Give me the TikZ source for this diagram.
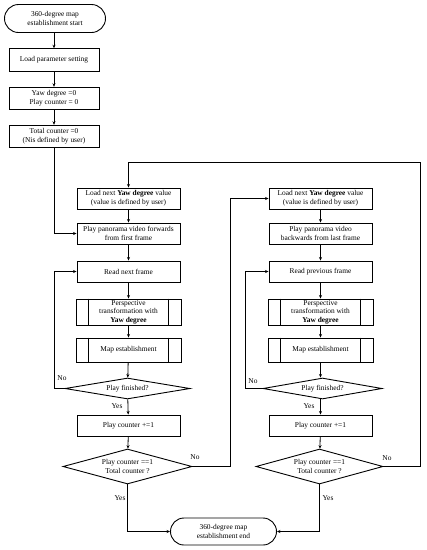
\documentclass[tikz,border=0pt]{standalone}
\usepackage{fontspec}
\setmainfont{Liberation Serif}
\usetikzlibrary{shapes.geometric,shapes.misc,arrows.meta}
\begin{document}
\begin{tikzpicture}[x=1pt,y=-1pt,
  every node/.style={font=\fontsize{7.4}{8.6}\selectfont, align=center, inner sep=0.5pt},
  box/.style={draw, line width=0.9pt, rectangle, minimum width=103pt, minimum height=21pt},
  sbox/.style={draw, line width=0.9pt, rectangle, minimum width=90pt, minimum height=22.5pt},
  pbox/.style={draw, line width=0.9pt, rectangle, minimum width=105pt},
  term/.style={draw, line width=0.9pt, rounded rectangle, minimum height=28pt},
  dec/.style={draw, line width=0.9pt, diamond, aspect=4, inner sep=0pt},
  arr/.style={line width=0.8pt, -{Stealth[length=3.5pt,width=3pt]}},
  lab/.style={font=\fontsize{7.4}{8.6}\selectfont}
]
\useasboundingbox (0,0) rectangle (427,550);
% left entry column
\node[term, minimum width=102pt] (start) at (55,18.5) {360-degree map\\establishment start};
\node[sbox] (param) at (54,60) {Load parameter setting};
\node[sbox] (yaw0) at (54,98.5) {Yaw degree =0\\Play counter = 0};
\node[sbox] (total) at (54,136.5) {Total counter =0\\(Nis defined by user)};
% left column
\node[box] (L1) at (128.5,198.5) {Load next \textbf{Yaw degree} value\\(value is defined by user)};
\node[box] (L2) at (128.5,233.5) {Play panorama video forwards\\from first frame};
\node[box] (L3) at (128.5,271.5) {Read next frame};
\node[pbox, minimum height=26pt] (L4) at (128.5,312) {Perspective\\transformation with\\\textbf{Yaw degree}};
\node[pbox, minimum height=24pt] (L5) at (128.5,350) {Map establishment};
\node[dec, minimum width=125pt, minimum height=21pt] (L6) at (127.5,388.5) {Play finished?};
\node[box] (L7) at (128.5,425.5) {Play counter +=1};
\node[dec, minimum width=129pt, minimum height=35pt] (L8) at (127.5,466.5) {Play counter ==1\\Total counter ?};
% right column
\node[box] (R1) at (320.5,198.5) {Load next \textbf{Yaw degree} value\\(value is defined by user)};
\node[box] (R2) at (320.5,233.5) {Play panorama video\\backwards from last frame};
\node[box] (R3) at (320.5,271.5) {Read previous frame};
\node[pbox, minimum height=26pt] (R4) at (320.5,312) {Perspective\\transformation with\\\textbf{Yaw degree}};
\node[pbox, minimum height=24pt] (R5) at (320.5,350) {Map establishment};
\node[dec, minimum width=119pt, minimum height=21pt] (R6) at (322.5,388.5) {Play finished?};
\node[box] (R7) at (320.5,425.5) {Play counter +=1};
\node[dec, minimum width=127pt, minimum height=35pt] (R8) at (319.5,466.5) {Play counter ==1\\Total counter ?};
% end
\node[term, minimum width=107pt, minimum height=27pt] (end) at (223.5,531.5) {360-degree map\\establishment end};
% predefined process side lines
\foreach \n in {L4,L5,R4,R5}{
  \draw[line width=0.9pt] ([xshift=13pt]\n.north west) -- ([xshift=13pt]\n.south west);
  \draw[line width=0.9pt] ([xshift=-13pt]\n.north east) -- ([xshift=-13pt]\n.south east);
}
% connectors
\draw[arr] (start.south -| param.north) -- (param.north);
\draw[arr] (param) -- (yaw0);
\draw[arr] (yaw0) -- (total);
\draw[arr] (total.south) |- (L2.west);
\draw[arr] (L1) -- (L2);
\draw[arr] (L2) -- (L3);
\draw[arr] (L3) -- (L4);
\draw[arr] (L4) -- (L5);
\draw[arr] (L5) -- (L6);
\draw[arr] (L6) -- (L7);
\draw[arr] (L7) -- (L8);
\coordinate (lno) at (54,388.5);
\draw[arr] (L6.west) -- (lno) |- (L3.west);
\coordinate (lno2) at (230,466.5);
\draw[arr] (L8.east) -- (lno2) |- (R1.west);
\draw[arr] (L8.south) |- (end.west);
\draw[arr] (R1) -- (R2);
\draw[arr] (R2) -- (R3);
\draw[arr] (R3) -- (R4);
\draw[arr] (R4) -- (R5);
\draw[arr] (R5) -- (R5 |- R6.north);
\draw[arr] (R6.south -| R7.north) -- (R7.north);
\draw[arr] (R7) -- (R8);
\coordinate (rno) at (245,388.5);
\draw[arr] (R6.west) -- (rno) |- (R3.west);
\coordinate (tr) at (420,162);
\draw[arr] (R8.east) -| (tr) -| (L1.north);
\draw[arr] (R8.south) |- (end.east);
% labels
\node[lab] at (62,378) {No};
\node[lab] at (117,406) {Yes};
\node[lab] at (195,457.5) {No};
\node[lab] at (120,498) {Yes};
\node[lab] at (253,381) {No};
\node[lab] at (309,406) {Yes};
\node[lab] at (387,458) {No};
\node[lab] at (328,498) {Yes};
\end{tikzpicture}
\end{document}
